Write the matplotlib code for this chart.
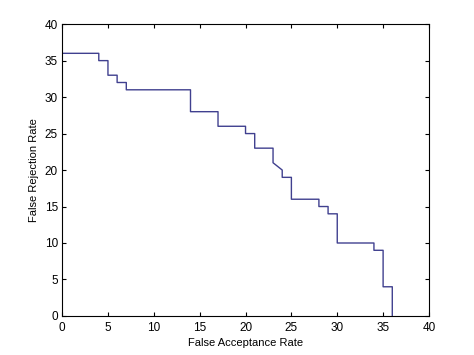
import numpy as np
import matplotlib
matplotlib.use("Agg")
import matplotlib.pyplot as plt

plt.rcParams['font.family'] = ['Liberation Sans', 'DejaVu Sans']

# FAR / FRR points of the curve
far = [0, 4, 4, 5, 5, 6, 6, 7, 7, 14, 14, 17, 17, 20, 20, 21, 21, 23, 23, 24,
       24, 25, 25, 28, 28, 29, 29, 30, 30, 34, 34, 35, 35, 36, 36]
frr = [36, 36, 35, 35, 33, 33, 32, 32, 31, 31, 28, 28, 26, 26, 25, 25, 23, 23, 21, 20,
       19, 19, 16, 16, 15, 15, 14, 14, 10, 10, 9, 9, 4, 4, 0]

fig = plt.figure(figsize=(4.74, 3.55), dpi=100)
ax = fig.add_axes([0.131, 0.110, 0.774, 0.822])
ax.plot(far, frr, color='#40408f', linewidth=1.0)

ax.set_xlim(0, 40)
ax.set_ylim(0, 40)
ax.set_xticks(np.arange(0, 41, 5))
ax.set_yticks(np.arange(0, 41, 5))
ax.tick_params(direction='in', top=True, right=True, length=3, labelsize=8.5)
ax.tick_params(axis='x', pad=4)
ax.tick_params(axis='y', pad=3)
ax.set_xlabel('False Acceptance Rate', fontsize=8, labelpad=3)
ax.set_ylabel('False Rejection Rate', fontsize=8, labelpad=4)
for s in ax.spines.values():
    s.set_linewidth(0.8)

fig.savefig('out.png', dpi=100)
